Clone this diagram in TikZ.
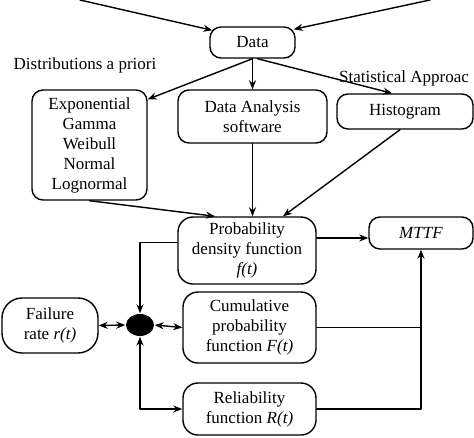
\documentclass[tikz,border=0pt]{standalone}
\usepackage{fontspec}
\setmainfont{Liberation Serif}
\usetikzlibrary{arrows.meta,shapes.geometric}
\tikzset{
  box/.style={draw,rounded corners=11pt,align=center,inner sep=0pt},
  lbl/.style={align=center}
}
\begin{document}
\begin{tikzpicture}[x=1pt,y=-1pt,>={Stealth[length=9pt,width=7pt]},line width=1.4pt,line cap=round,line join=round,font=\fontsize{17}{20}\selectfont]
				\useasboundingbox (0,0) rectangle (474,437);
				% boxes
				\node[box,minimum width=85,minimum height=31] (data) at (252.5,42.5) {Data};
				\node[box,minimum width=115,minimum height=110] (expo) at (89.5,145) {Exponential\\Gamma\\Weibull\\Normal\\Lognormal};
				\node[box,minimum width=149,minimum height=53] (soft) at (252.5,116.5) {Data Analysis\\software};
				\node[box,minimum width=136,minimum height=35] (hist) at (405,111.5) {Histogram};
				\node[box,rounded corners=15pt,minimum width=138,minimum height=67] (pdf) at (247,250.5) {Probability\\density function\\\textit{f(t)}};
				\node[box,minimum width=104,minimum height=32] (mttf) at (421,233) {\textit{MTTF}};
				\node[box,rounded corners=15pt,minimum width=133,minimum height=71] (cdf) at (249.5,327.5) {Cumulative\\probability\\function \textit{F(t)}};
				\node[box,rounded corners=15pt,minimum width=133,minimum height=52] (rel) at (249.5,409) {Reliability\\function \textit{R(t)}};
				\node[box,rounded corners=20pt,minimum width=96,minimum height=55] (fail) at (50,325.5) {Failure\\rate \textit{r(t)}};
				\node[ellipse,fill=black,minimum width=28,minimum height=22,inner sep=0pt] (dot) at (140,325) {};
				% free labels
				\node[lbl] (apriori) at (85,65) {Distributions a priori};
				\node[lbl,anchor=east] (stat) at (473,78) {Statistical Approac};
				\coordinate (inL) at (80,0);
				\coordinate (inR) at (430,0);
				\coordinate (mttfin) at ([yshift=-5pt]mttf.west);
				% connectors
				\draw[->] (inL) -- ([xshift=3pt,yshift=-4pt]data.north west);
				\draw[->] (inR) -- ([xshift=-2pt,yshift=-3pt]data.north east);
				\draw[->] (data.south) -- ([yshift=-10pt]expo.north east);
				\draw[->] (data.south) -- (soft.north);
				\draw[->] ([xshift=5pt]data.south) -- ([xshift=-13pt]hist.north);
				\draw[->] (expo.south) -- ([xshift=-32pt]pdf.north);
				\draw[->] (soft.south) -- (soft.south |- pdf.north);
				\draw[->] ([xshift=-5pt]hist.south) -- ([xshift=36pt]pdf.north);
				\draw[->] (pdf.east |- mttfin) -- (mttfin);
				\draw[->] ([yshift=8pt]pdf.west) -| (dot.north);
				\draw[<->] (fail.east) -- (dot.west);
				\draw[<->] (dot.east) -- (cdf.west);
				\draw[<->] (dot.south) |- (rel.west);
				\draw (cdf.east) -- (cdf.east -| mttf.south);
				\draw[->] (rel.east) -| (mttf.south);
			\end{tikzpicture}
\end{document}
